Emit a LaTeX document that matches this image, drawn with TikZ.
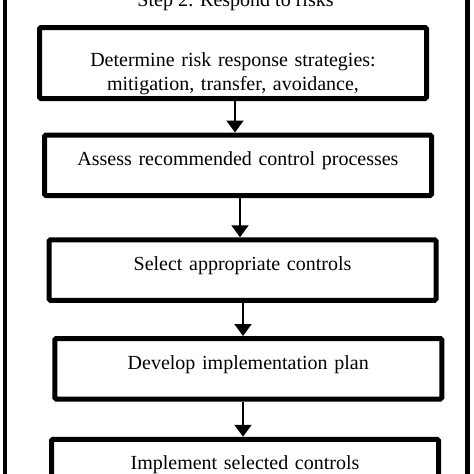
\documentclass[tikz,border=0pt]{standalone}
\usepackage{fontspec}
\setmainfont{Liberation Serif}
\usetikzlibrary{arrows.meta}
\tikzstyle{stepbox} = [rectangle, draw=black, line width=5pt, rounded corners=1.5pt, minimum width=387pt, minimum height=60.5pt, text width=370pt, align=center, inner sep=0pt, text depth=13pt, font=\fontsize{20}{24}\selectfont]
\tikzstyle{firstbox} = [stepbox, minimum height=71pt, text depth=7pt]
\tikzstyle{frame} = [line width=4.5pt]
\tikzstyle{arrow} = [line width=2pt, -{Triangle[width=17pt,length=12pt]}]

\begin{document}
\begin{tikzpicture}[x=1pt, y=-1pt, node distance=100pt]
\useasboundingbox (0,0) rectangle (474,474);
\clip (0,0) rectangle (474,474);
\draw [frame] (5,-20) rectangle (467.5,520);

\node (title) [anchor=base, font=\fontsize{20}{24}\selectfont] at (235.5,6.5) {Step 2: Respond to risks};
\node (determine) [firstbox] at (233,63) {Determine risk response strategies:\\ mitigation, transfer, avoidance,};
\node (assess) [stepbox, below of=determine, xshift=5pt, yshift=-2.25pt] {Assess recommended control processes};
\node (select) [stepbox, below of=assess, xshift=4.5pt, yshift=-4.75pt] {Select appropriate controls};
\node (develop) [stepbox, below of=select, xshift=5.75pt, yshift=1.25pt] {Develop implementation plan};
\node (implement) [stepbox, below of=develop, xshift=-3.25pt, yshift=-0.75pt] {Implement selected controls};

\draw [arrow] ([xshift=2pt]determine.south) -- ([xshift=2pt]determine.south |- assess.north);
\draw [arrow] ([xshift=2pt]assess.south) -- ([xshift=2pt]assess.south |- select.north);
\draw [arrow] ([xshift=0.5pt]select.south) -- ([xshift=0.5pt]select.south |- develop.north);
\draw [arrow] ([xshift=-5.25pt]develop.south) -- ([xshift=-5.25pt]develop.south |- implement.north);

\end{tikzpicture}
\end{document}
